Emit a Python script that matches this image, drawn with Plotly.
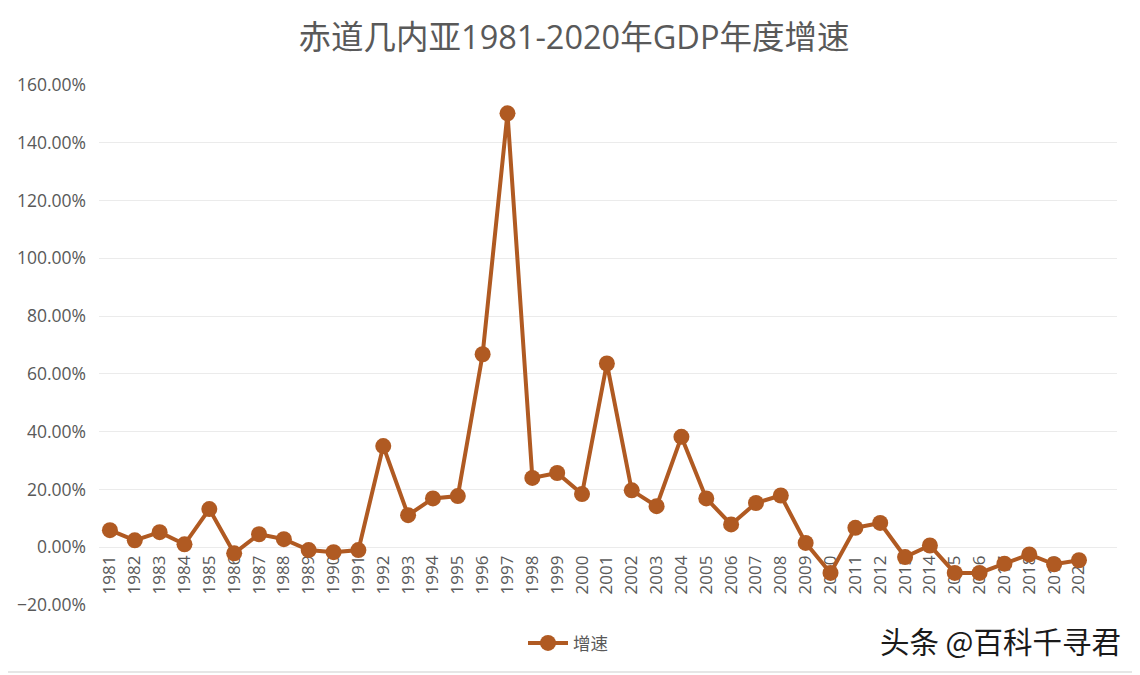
import plotly.graph_objects as go

# Equatorial Guinea GDP annual growth, 1981-2020
years = [str(y) for y in range(1981, 2021)]
growth = [
    0.059, 0.024, 0.052, 0.010, 0.132, -0.021, 0.045, 0.028, -0.010, -0.017,
    -0.010, 0.350, 0.111, 0.169, 0.177, 0.668, 1.502, 0.240, 0.257, 0.184,
    0.636, 0.197, 0.142, 0.382, 0.169, 0.079, 0.153, 0.179, 0.015, -0.089,
    0.067, 0.084, -0.034, 0.006, -0.089, -0.089, -0.057, -0.025, -0.059, -0.045,
]
series_name = "增速"
title_text = "赤道几内亚1981-2020年GDP年度增速"
watermark = "头条 @百科千寻君"

# the page body has an 8px margin, so the figure is shrunk by that much
OFF = 8
W, H = 1140 - OFF, 675 - OFF
ML, MT = 99 - OFF, 85 - OFF
plot_w, plot_h = 1018, 520
MR, MB = W - ML - plot_w, H - MT - plot_h
Y_MIN, Y_MAX = -0.2, 1.6
# excel leaves extra room after the last category
X_RANGE = [-0.44, len(years) - 1 + 1.53]
LINE_COLOR = "#B05A22"
TEXT_COLOR = "#595959"
GRID_COLOR = "#EBEBEB"
FONT = "Open Sans, Noto Sans CJK SC"


def px(x):
    """screen x (window pixels) -> paper x"""
    return (x - OFF - ML) / plot_w


def py(y):
    """screen y (window pixels) -> paper y"""
    return (MT + plot_h - (y - OFF)) / plot_h


# put the category axis where y = 0, like the excel chart
x_axis_pos = (0 - Y_MIN) / (Y_MAX - Y_MIN)

fig = go.Figure()
fig.add_trace(go.Scatter(
    x=years, y=growth, name=series_name, mode="lines+markers",
    line=dict(color=LINE_COLOR, width=4),
    marker=dict(color=LINE_COLOR, size=16),
))

fig.update_layout(
    width=W, height=H,
    margin=dict(l=ML, r=MR, t=MT, b=MB, autoexpand=False),
    paper_bgcolor="white", plot_bgcolor="white",
    font=dict(family=FONT, color=TEXT_COLOR),
    title=dict(text=title_text, x=0.5, xanchor="center", y=1 - (38 - OFF) / H, yanchor="middle",
               font=dict(size=32.5, color=TEXT_COLOR, family=FONT)),
    showlegend=True,
    legend=dict(orientation="h", x=px(568), xanchor="center",
                y=py(643), yanchor="middle",
                font=dict(size=17.5, color=TEXT_COLOR), itemwidth=40),
    xaxis=dict(
        type="category", range=X_RANGE,
        anchor="free", position=x_axis_pos, automargin=False,
        tickangle=-90, tickfont=dict(size=17, color=TEXT_COLOR),
        showgrid=False, showline=False, zeroline=False, ticks="",
        ticklabelstandoff=4, layer="below traces",
    ),
    yaxis=dict(
        range=[Y_MIN, Y_MAX], dtick=0.2, tickformat=".2%", automargin=False,
        tickfont=dict(size=17.5, color=TEXT_COLOR),
        showgrid=True, gridcolor=GRID_COLOR, gridwidth=1,
        zeroline=True, zerolinecolor=GRID_COLOR, zerolinewidth=1,
        showline=False, ticks="", ticklabelstandoff=12,
    ),
)

fig.add_annotation(
    text=watermark, xref="paper", yref="paper",
    x=px(1000), y=py(640),
    xanchor="center", yanchor="middle", showarrow=False,
    font=dict(size=29.5, color="#1a1a1a", family="Noto Sans CJK SC"),
)

# light chart-area border (right and bottom edges are the visible ones)
fig.add_shape(
    type="rect", xref="paper", yref="paper",
    x0=px(1), x1=px(1136), y0=py(672), y1=py(1),
    line=dict(color="#E6E6E6", width=2), layer="below",
)

fig.write_html("out.html")
